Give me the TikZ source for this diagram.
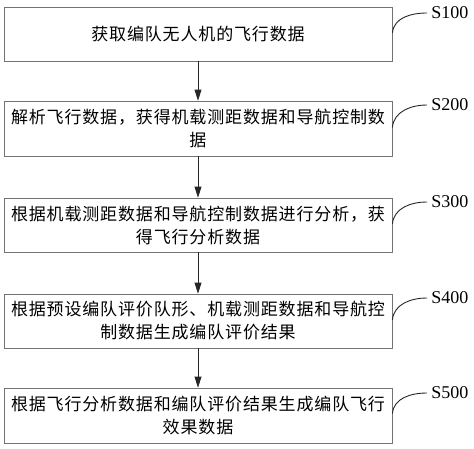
\documentclass[tikz,border=0pt]{standalone}
\usepackage{fontspec}
\setmainfont{Liberation Serif}
\newfontfamily\cjk[LetterSpace=5]{Noto Sans CJK SC}
\usetikzlibrary{arrows.meta}

\begin{document}
\begin{tikzpicture}[x=1pt, y=1pt, line width = 0.8pt,
  stepbox/.style={draw=black!55, minimum width=388pt, minimum height=54pt,
    inner sep=0pt, align=center, font=\cjk\fontsize{17}{23}\selectfont},
  steplabel/.style={anchor=west, inner sep=4pt, font=\fontsize{18}{20}\selectfont},
  flow/.style={draw=black!85, -{Triangle[length=11pt,width=7pt]}},
  hook/.style={draw=black!85, line width=0.9pt}]

\useasboundingbox (0,0) rectangle (474,-448);

% steps
\node[stepbox] (b1) at (198,-34) {获取编队无人机的飞行数据};
\node[stepbox, minimum height=55pt] (b2) at (198,-128.5) {解析飞行数据，获得机载测距数据和导航控制数\\据};
\node[stepbox] (b3) at (198,-225) {根据机载测距数据和导航控制数据进行分析，获\\得飞行分析数据};
\node[stepbox] (b4) at (198,-321) {根据预设编队评价队形、机载测距数据和导航控\\制数据生成编队评价结果};
\node[stepbox, minimum height=55pt] (b5) at (198,-415.5) {根据飞行分析数据和编队评价结果生成编队飞行\\效果数据};

% labels
\node[steplabel] (l1) at (427,-13) {S100};
\node[steplabel] (l2) at (427,-105) {S200};
\node[steplabel] (l3) at (427,-202) {S300};
\node[steplabel] (l4) at (427,-298) {S400};
\node[steplabel] (l5) at (427,-393) {S500};

\draw[hook] ([yshift=1pt]b1.east) to[out=85,in=180] (l1.west);
\draw[hook] ([yshift=1pt]b2.east) to[out=85,in=180] (l2.west);
\draw[hook] ([yshift=1pt]b3.east) to[out=85,in=180] (l3.west);
\draw[hook] ([yshift=1pt]b4.east) to[out=85,in=180] (l4.west);
\draw[hook] ([yshift=2pt]b5.east) to[out=85,in=180] (l5.west);

% arrows
\draw[flow] (b1) -- (b2);
\draw[flow] (b2) -- (b3);
\draw[flow] (b3) -- (b4);
\draw[flow] (b4) -- (b5);

\end{tikzpicture}
\end{document}
